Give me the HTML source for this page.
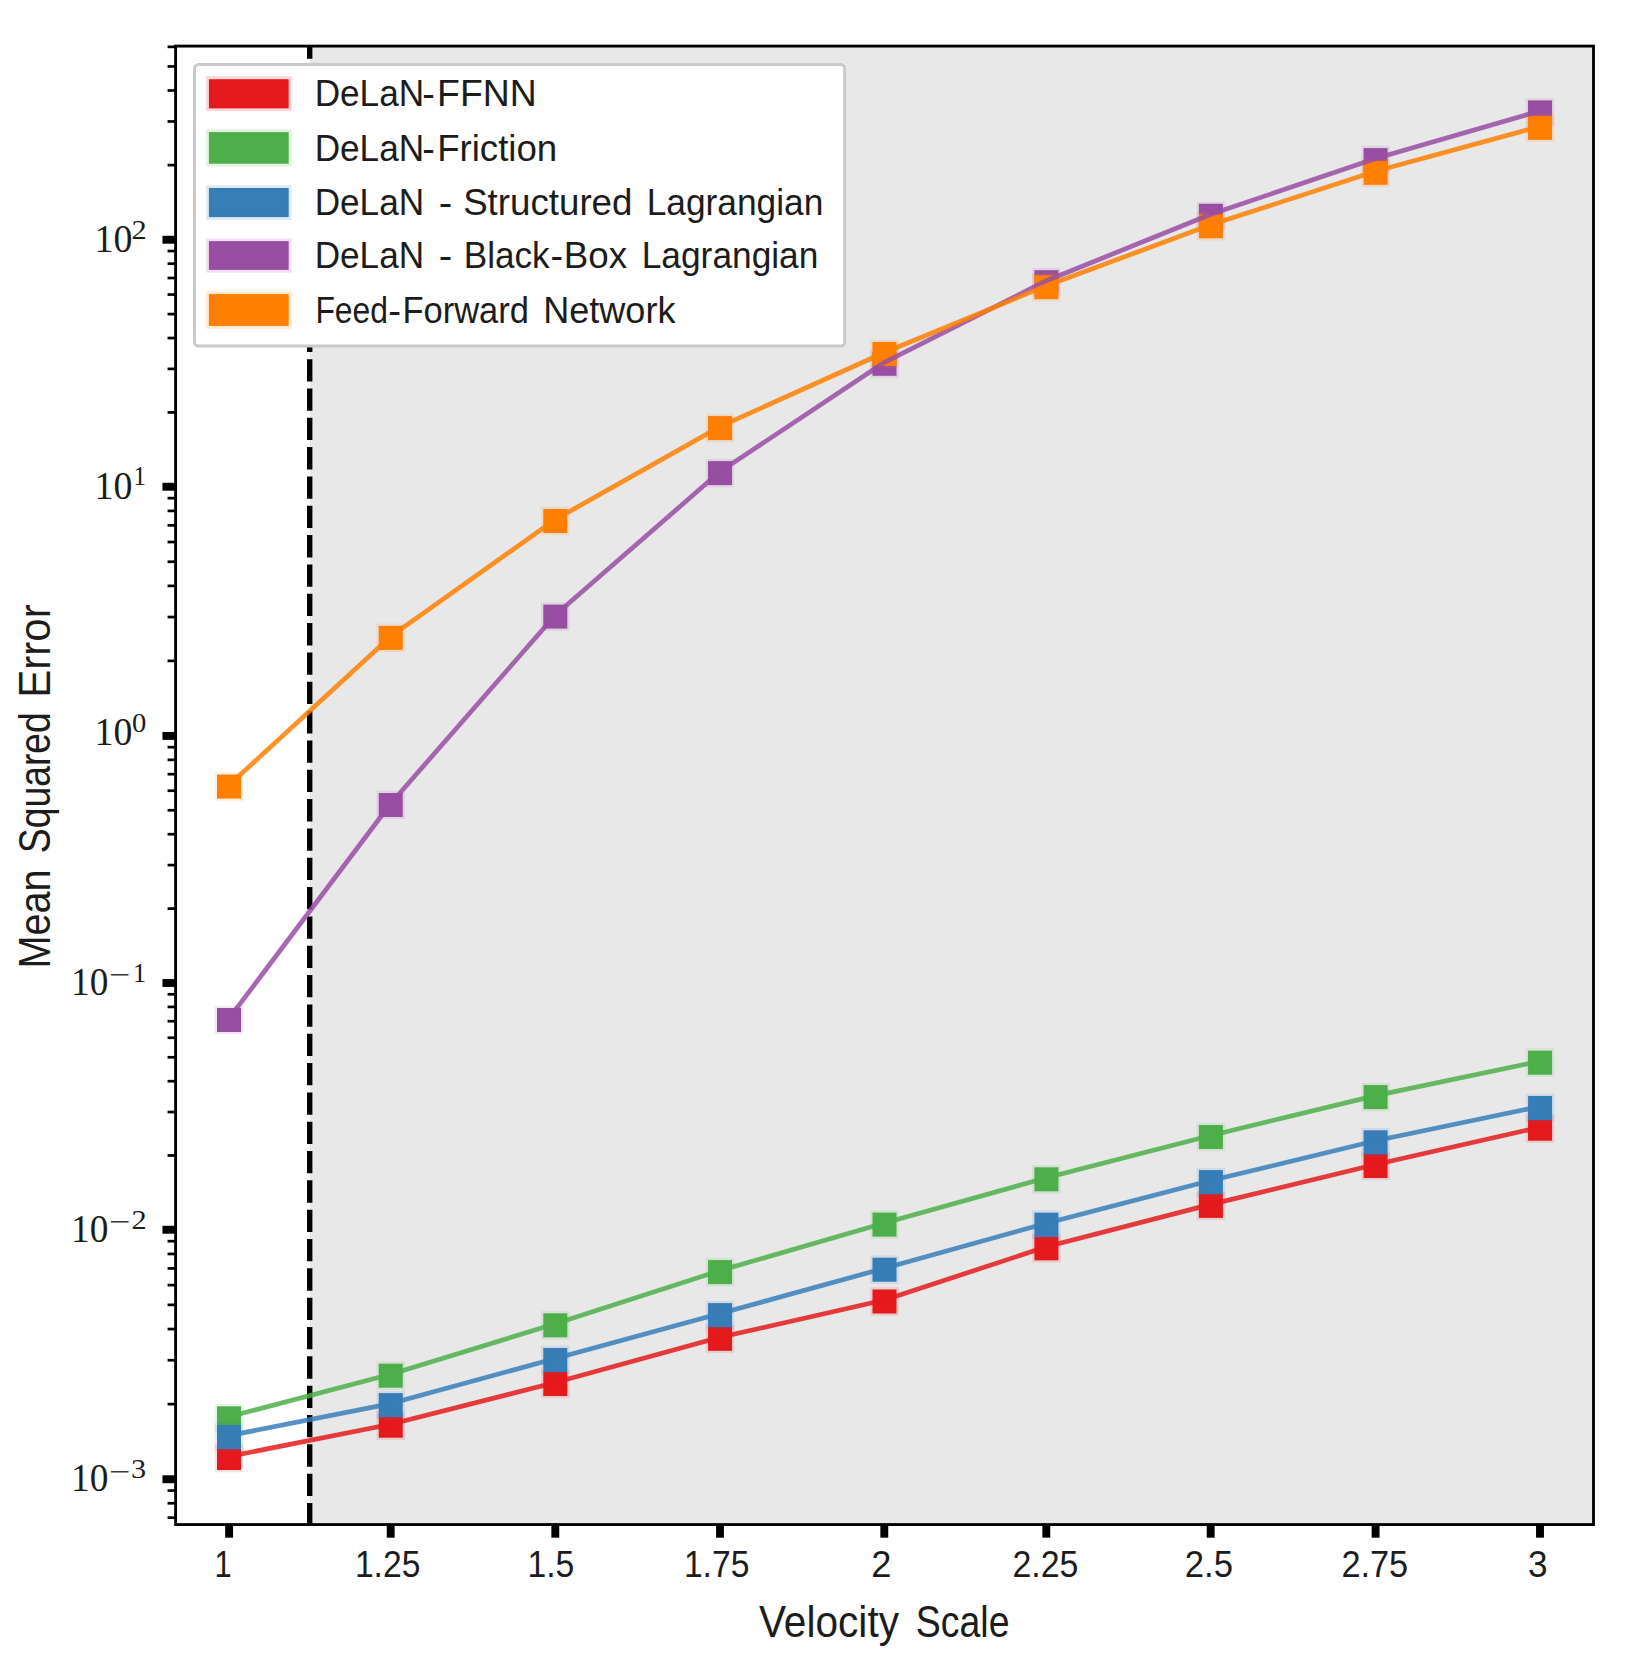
<!DOCTYPE html>
<html lang="en"><head><meta charset="utf-8"><title>Mean Squared Error vs Velocity Scale</title>
<style>html,body{margin:0;padding:0;background:#fff}body{width:1630px;height:1665px;overflow:hidden}svg{display:block}text{white-space:pre}</style>
</head><body>
<svg width="1630" height="1665" viewBox="0 0 1630 1665">
<rect x="0" y="0" width="1630" height="1665" fill="#ffffff"/>
<rect x="310.0" y="46.1" width="1283.50" height="1478.45" fill="#e8e8e8"/>
<g>
<rect x="217.00" y="1446.00" width="24.0" height="24.0" fill="#e41a1c" stroke="#e41a1c" stroke-opacity="0.13" stroke-width="4.6"/>
<rect x="378.75" y="1413.70" width="24.0" height="24.0" fill="#e41a1c" stroke="#e41a1c" stroke-opacity="0.13" stroke-width="4.6"/>
<rect x="543.30" y="1372.00" width="24.0" height="24.0" fill="#e41a1c" stroke="#e41a1c" stroke-opacity="0.13" stroke-width="4.6"/>
<rect x="708.05" y="1326.80" width="24.0" height="24.0" fill="#e41a1c" stroke="#e41a1c" stroke-opacity="0.13" stroke-width="4.6"/>
<rect x="872.50" y="1289.50" width="24.0" height="24.0" fill="#e41a1c" stroke="#e41a1c" stroke-opacity="0.13" stroke-width="4.6"/>
<rect x="1034.40" y="1236.30" width="24.0" height="24.0" fill="#e41a1c" stroke="#e41a1c" stroke-opacity="0.13" stroke-width="4.6"/>
<rect x="1198.90" y="1193.90" width="24.0" height="24.0" fill="#e41a1c" stroke="#e41a1c" stroke-opacity="0.13" stroke-width="4.6"/>
<rect x="1363.60" y="1154.00" width="24.0" height="24.0" fill="#e41a1c" stroke="#e41a1c" stroke-opacity="0.13" stroke-width="4.6"/>
<rect x="1528.05" y="1116.70" width="24.0" height="24.0" fill="#e41a1c" stroke="#e41a1c" stroke-opacity="0.13" stroke-width="4.6"/>
<rect x="217.00" y="1406.30" width="24.0" height="24.0" fill="#4daf4a" stroke="#4daf4a" stroke-opacity="0.13" stroke-width="4.6"/>
<rect x="378.75" y="1363.70" width="24.0" height="24.0" fill="#4daf4a" stroke="#4daf4a" stroke-opacity="0.13" stroke-width="4.6"/>
<rect x="543.30" y="1313.30" width="24.0" height="24.0" fill="#4daf4a" stroke="#4daf4a" stroke-opacity="0.13" stroke-width="4.6"/>
<rect x="708.05" y="1260.10" width="24.0" height="24.0" fill="#4daf4a" stroke="#4daf4a" stroke-opacity="0.13" stroke-width="4.6"/>
<rect x="872.50" y="1212.60" width="24.0" height="24.0" fill="#4daf4a" stroke="#4daf4a" stroke-opacity="0.13" stroke-width="4.6"/>
<rect x="1034.40" y="1167.30" width="24.0" height="24.0" fill="#4daf4a" stroke="#4daf4a" stroke-opacity="0.13" stroke-width="4.6"/>
<rect x="1198.90" y="1125.00" width="24.0" height="24.0" fill="#4daf4a" stroke="#4daf4a" stroke-opacity="0.13" stroke-width="4.6"/>
<rect x="1363.60" y="1085.10" width="24.0" height="24.0" fill="#4daf4a" stroke="#4daf4a" stroke-opacity="0.13" stroke-width="4.6"/>
<rect x="1528.05" y="1050.70" width="24.0" height="24.0" fill="#4daf4a" stroke="#4daf4a" stroke-opacity="0.13" stroke-width="4.6"/>
<rect x="217.00" y="1425.10" width="24.0" height="24.0" fill="#377eb8" stroke="#377eb8" stroke-opacity="0.13" stroke-width="4.6"/>
<rect x="378.75" y="1393.10" width="24.0" height="24.0" fill="#377eb8" stroke="#377eb8" stroke-opacity="0.13" stroke-width="4.6"/>
<rect x="543.30" y="1348.00" width="24.0" height="24.0" fill="#377eb8" stroke="#377eb8" stroke-opacity="0.13" stroke-width="4.6"/>
<rect x="708.05" y="1303.10" width="24.0" height="24.0" fill="#377eb8" stroke="#377eb8" stroke-opacity="0.13" stroke-width="4.6"/>
<rect x="872.50" y="1257.70" width="24.0" height="24.0" fill="#377eb8" stroke="#377eb8" stroke-opacity="0.13" stroke-width="4.6"/>
<rect x="1034.40" y="1212.70" width="24.0" height="24.0" fill="#377eb8" stroke="#377eb8" stroke-opacity="0.13" stroke-width="4.6"/>
<rect x="1198.90" y="1170.10" width="24.0" height="24.0" fill="#377eb8" stroke="#377eb8" stroke-opacity="0.13" stroke-width="4.6"/>
<rect x="1363.60" y="1130.30" width="24.0" height="24.0" fill="#377eb8" stroke="#377eb8" stroke-opacity="0.13" stroke-width="4.6"/>
<rect x="1528.05" y="1096.00" width="24.0" height="24.0" fill="#377eb8" stroke="#377eb8" stroke-opacity="0.13" stroke-width="4.6"/>
<rect x="217.00" y="1008.00" width="24.0" height="24.0" fill="#984ea3" stroke="#984ea3" stroke-opacity="0.13" stroke-width="4.6"/>
<rect x="378.75" y="793.00" width="24.0" height="24.0" fill="#984ea3" stroke="#984ea3" stroke-opacity="0.13" stroke-width="4.6"/>
<rect x="543.30" y="604.60" width="24.0" height="24.0" fill="#984ea3" stroke="#984ea3" stroke-opacity="0.13" stroke-width="4.6"/>
<rect x="708.05" y="461.10" width="24.0" height="24.0" fill="#984ea3" stroke="#984ea3" stroke-opacity="0.13" stroke-width="4.6"/>
<rect x="872.50" y="351.80" width="24.0" height="24.0" fill="#984ea3" stroke="#984ea3" stroke-opacity="0.13" stroke-width="4.6"/>
<rect x="1034.40" y="270.20" width="24.0" height="24.0" fill="#984ea3" stroke="#984ea3" stroke-opacity="0.13" stroke-width="4.6"/>
<rect x="1198.90" y="203.80" width="24.0" height="24.0" fill="#984ea3" stroke="#984ea3" stroke-opacity="0.13" stroke-width="4.6"/>
<rect x="1363.60" y="148.10" width="24.0" height="24.0" fill="#984ea3" stroke="#984ea3" stroke-opacity="0.13" stroke-width="4.6"/>
<rect x="1528.05" y="100.40" width="24.0" height="24.0" fill="#984ea3" stroke="#984ea3" stroke-opacity="0.13" stroke-width="4.6"/>
<rect x="217.00" y="774.60" width="24.0" height="24.0" fill="#ff7f00" stroke="#ff7f00" stroke-opacity="0.13" stroke-width="4.6"/>
<rect x="378.75" y="625.90" width="24.0" height="24.0" fill="#ff7f00" stroke="#ff7f00" stroke-opacity="0.13" stroke-width="4.6"/>
<rect x="543.30" y="509.00" width="24.0" height="24.0" fill="#ff7f00" stroke="#ff7f00" stroke-opacity="0.13" stroke-width="4.6"/>
<rect x="708.05" y="416.10" width="24.0" height="24.0" fill="#ff7f00" stroke="#ff7f00" stroke-opacity="0.13" stroke-width="4.6"/>
<rect x="872.50" y="342.00" width="24.0" height="24.0" fill="#ff7f00" stroke="#ff7f00" stroke-opacity="0.13" stroke-width="4.6"/>
<rect x="1034.40" y="275.20" width="24.0" height="24.0" fill="#ff7f00" stroke="#ff7f00" stroke-opacity="0.13" stroke-width="4.6"/>
<rect x="1198.90" y="214.30" width="24.0" height="24.0" fill="#ff7f00" stroke="#ff7f00" stroke-opacity="0.13" stroke-width="4.6"/>
<rect x="1363.60" y="160.80" width="24.0" height="24.0" fill="#ff7f00" stroke="#ff7f00" stroke-opacity="0.13" stroke-width="4.6"/>
<rect x="1528.05" y="115.90" width="24.0" height="24.0" fill="#ff7f00" stroke="#ff7f00" stroke-opacity="0.13" stroke-width="4.6"/>
</g>
<path d="M309.7 1525.3 L309.7 46.1" stroke="#000" stroke-width="5.4" stroke-dasharray="22.3 7.03" fill="none"/>
<polyline points="229.00,1456.50 390.75,1424.20 555.30,1382.50 720.05,1337.30 884.50,1300.00 1046.40,1246.80 1210.90,1204.40 1375.60,1164.50 1540.05,1127.20" fill="none" stroke="#e41a1c" stroke-opacity="0.85" stroke-width="4.7" stroke-linejoin="round"/>
<polyline points="229.00,1416.80 390.75,1374.20 555.30,1323.80 720.05,1270.60 884.50,1223.10 1046.40,1177.80 1210.90,1135.50 1375.60,1095.60 1540.05,1061.20" fill="none" stroke="#4daf4a" stroke-opacity="0.85" stroke-width="4.7" stroke-linejoin="round"/>
<polyline points="229.00,1435.60 390.75,1403.60 555.30,1358.50 720.05,1313.60 884.50,1268.20 1046.40,1223.20 1210.90,1180.60 1375.60,1140.80 1540.05,1106.50" fill="none" stroke="#377eb8" stroke-opacity="0.85" stroke-width="4.7" stroke-linejoin="round"/>
<polyline points="229.00,1018.50 390.75,803.50 555.30,615.10 720.05,471.60 884.50,362.30 1046.40,280.70 1210.90,214.30 1375.60,158.60 1540.05,110.90" fill="none" stroke="#984ea3" stroke-opacity="0.85" stroke-width="4.7" stroke-linejoin="round"/>
<polyline points="229.00,785.10 390.75,636.40 555.30,519.50 720.05,426.60 884.50,352.50 1046.40,285.70 1210.90,224.80 1375.60,171.30 1540.05,126.40" fill="none" stroke="#ff7f00" stroke-opacity="0.85" stroke-width="4.7" stroke-linejoin="round"/>
<g><rect x="225.15" y="1524.55" width="7.9" height="13.12" fill="#000"/><rect x="386.75" y="1524.55" width="7.9" height="13.12" fill="#000"/><rect x="551.35" y="1524.55" width="7.9" height="13.12" fill="#000"/><rect x="716.05" y="1524.55" width="7.9" height="13.12" fill="#000"/><rect x="880.35" y="1524.55" width="7.9" height="13.12" fill="#000"/><rect x="1042.35" y="1524.55" width="7.9" height="13.12" fill="#000"/><rect x="1206.75" y="1524.55" width="7.9" height="13.12" fill="#000"/><rect x="1371.65" y="1524.55" width="7.9" height="13.12" fill="#000"/><rect x="1536.05" y="1524.55" width="7.9" height="13.12" fill="#000"/><rect x="162.47" y="235.80" width="13.12" height="7.9" fill="#000"/><rect x="162.47" y="482.80" width="13.12" height="7.9" fill="#000"/><rect x="162.47" y="731.95" width="13.12" height="7.9" fill="#000"/><rect x="162.47" y="979.05" width="13.12" height="7.9" fill="#000"/><rect x="162.47" y="1225.80" width="13.12" height="7.9" fill="#000"/><rect x="162.47" y="1475.30" width="13.12" height="7.9" fill="#000"/><rect x="167.57" y="1516.30" width="8.03" height="2.7" fill="#000"/><rect x="167.57" y="1501.92" width="8.03" height="2.7" fill="#000"/><rect x="167.57" y="1489.24" width="8.03" height="2.7" fill="#000"/><rect x="167.57" y="1402.79" width="8.03" height="2.7" fill="#000"/><rect x="167.57" y="1358.86" width="8.03" height="2.7" fill="#000"/><rect x="167.57" y="1327.69" width="8.03" height="2.7" fill="#000"/><rect x="167.57" y="1303.51" width="8.03" height="2.7" fill="#000"/><rect x="167.57" y="1283.75" width="8.03" height="2.7" fill="#000"/><rect x="167.57" y="1267.05" width="8.03" height="2.7" fill="#000"/><rect x="167.57" y="1252.58" width="8.03" height="2.7" fill="#000"/><rect x="167.57" y="1239.82" width="8.03" height="2.7" fill="#000"/><rect x="167.57" y="1154.12" width="8.03" height="2.7" fill="#000"/><rect x="167.57" y="1110.67" width="8.03" height="2.7" fill="#000"/><rect x="167.57" y="1079.84" width="8.03" height="2.7" fill="#000"/><rect x="167.57" y="1055.93" width="8.03" height="2.7" fill="#000"/><rect x="167.57" y="1036.39" width="8.03" height="2.7" fill="#000"/><rect x="167.57" y="1019.87" width="8.03" height="2.7" fill="#000"/><rect x="167.57" y="1005.56" width="8.03" height="2.7" fill="#000"/><rect x="167.57" y="992.94" width="8.03" height="2.7" fill="#000"/><rect x="167.57" y="907.27" width="8.03" height="2.7" fill="#000"/><rect x="167.57" y="863.75" width="8.03" height="2.7" fill="#000"/><rect x="167.57" y="832.88" width="8.03" height="2.7" fill="#000"/><rect x="167.57" y="808.93" width="8.03" height="2.7" fill="#000"/><rect x="167.57" y="789.37" width="8.03" height="2.7" fill="#000"/><rect x="167.57" y="772.83" width="8.03" height="2.7" fill="#000"/><rect x="167.57" y="758.50" width="8.03" height="2.7" fill="#000"/><rect x="167.57" y="745.86" width="8.03" height="2.7" fill="#000"/><rect x="167.57" y="659.55" width="8.03" height="2.7" fill="#000"/><rect x="167.57" y="615.68" width="8.03" height="2.7" fill="#000"/><rect x="167.57" y="584.55" width="8.03" height="2.7" fill="#000"/><rect x="167.57" y="560.40" width="8.03" height="2.7" fill="#000"/><rect x="167.57" y="540.67" width="8.03" height="2.7" fill="#000"/><rect x="167.57" y="523.99" width="8.03" height="2.7" fill="#000"/><rect x="167.57" y="509.55" width="8.03" height="2.7" fill="#000"/><rect x="167.57" y="496.80" width="8.03" height="2.7" fill="#000"/><rect x="167.57" y="411.05" width="8.03" height="2.7" fill="#000"/><rect x="167.57" y="367.55" width="8.03" height="2.7" fill="#000"/><rect x="167.57" y="336.69" width="8.03" height="2.7" fill="#000"/><rect x="167.57" y="312.75" width="8.03" height="2.7" fill="#000"/><rect x="167.57" y="293.20" width="8.03" height="2.7" fill="#000"/><rect x="167.57" y="276.66" width="8.03" height="2.7" fill="#000"/><rect x="167.57" y="262.34" width="8.03" height="2.7" fill="#000"/><rect x="167.57" y="249.70" width="8.03" height="2.7" fill="#000"/><rect x="167.57" y="163.77" width="8.03" height="2.7" fill="#000"/><rect x="167.57" y="120.12" width="8.03" height="2.7" fill="#000"/><rect x="167.57" y="89.15" width="8.03" height="2.7" fill="#000"/><rect x="167.57" y="65.13" width="8.03" height="2.7" fill="#000"/><rect x="167.57" y="45.50" width="8.03" height="2.7" fill="#000"/></g>
<rect x="175.6" y="46.1" width="1417.90" height="1478.45" fill="none" stroke="#000" stroke-width="2.85"/>
<rect x="194.50" y="64.60" width="650.20" height="281.50" rx="4" ry="4" fill="#ffffff" stroke="#cacaca" stroke-width="3.0"/>
<rect x="208.9" y="79.2" width="79.80" height="29.20" fill="#e41a1c" stroke="#e41a1c" stroke-opacity="0.17" stroke-width="5.6"/>
<rect x="208.9" y="132.1" width="79.80" height="31.60" fill="#4daf4a" stroke="#4daf4a" stroke-opacity="0.17" stroke-width="5.6"/>
<rect x="208.9" y="188.0" width="79.80" height="29.10" fill="#377eb8" stroke="#377eb8" stroke-opacity="0.17" stroke-width="5.6"/>
<rect x="208.9" y="241.1" width="79.80" height="28.80" fill="#984ea3" stroke="#984ea3" stroke-opacity="0.17" stroke-width="5.6"/>
<rect x="208.9" y="294.1" width="79.80" height="31.80" fill="#ff7f00" stroke="#ff7f00" stroke-opacity="0.17" stroke-width="5.6"/>
<text y="1577.0" font-family="'Liberation Sans', sans-serif" font-size="36.6" fill="#1c1c1c"><tspan x="214.47" textLength="17.18" lengthAdjust="spacingAndGlyphs">1</tspan></text>
<text y="1577.0" font-family="'Liberation Sans', sans-serif" font-size="36.6" fill="#1c1c1c"><tspan x="354.90" textLength="65.47" lengthAdjust="spacingAndGlyphs">1.25</tspan></text>
<text y="1577.0" font-family="'Liberation Sans', sans-serif" font-size="36.6" fill="#1c1c1c"><tspan x="527.49" textLength="46.87" lengthAdjust="spacingAndGlyphs">1.5</tspan></text>
<text y="1577.0" font-family="'Liberation Sans', sans-serif" font-size="36.6" fill="#1c1c1c"><tspan x="683.90" textLength="65.47" lengthAdjust="spacingAndGlyphs">1.75</tspan></text>
<text y="1577.0" font-family="'Liberation Sans', sans-serif" font-size="36.6" fill="#1c1c1c"><tspan x="871.30" textLength="20.17" lengthAdjust="spacingAndGlyphs">2</tspan></text>
<text y="1577.0" font-family="'Liberation Sans', sans-serif" font-size="36.6" fill="#1c1c1c"><tspan x="1012.41" textLength="65.96" lengthAdjust="spacingAndGlyphs">2.25</tspan></text>
<text y="1577.0" font-family="'Liberation Sans', sans-serif" font-size="36.6" fill="#1c1c1c"><tspan x="1184.77" textLength="48.23" lengthAdjust="spacingAndGlyphs">2.5</tspan></text>
<text y="1577.0" font-family="'Liberation Sans', sans-serif" font-size="36.6" fill="#1c1c1c"><tspan x="1341.39" textLength="66.80" lengthAdjust="spacingAndGlyphs">2.75</tspan></text>
<text y="1577.0" font-family="'Liberation Sans', sans-serif" font-size="36.6" fill="#1c1c1c"><tspan x="1527.90" textLength="19.52" lengthAdjust="spacingAndGlyphs">3</tspan></text>
<text y="1636.6" font-family="'Liberation Sans', sans-serif" font-size="45.0" fill="#1c1c1c"><tspan x="759.00" textLength="140.00" lengthAdjust="spacingAndGlyphs">Velocity</tspan> <tspan x="915.83" textLength="93.69" lengthAdjust="spacingAndGlyphs">Scale</tspan></text>
<text transform="translate(50.0,0) rotate(-90)" y="0" font-family="'Liberation Sans', sans-serif" font-size="45.0" fill="#1c1c1c"><tspan x="-968.49" textLength="98.91" lengthAdjust="spacingAndGlyphs">Mean</tspan> <tspan x="-853.27" textLength="141.16" lengthAdjust="spacingAndGlyphs">Squared</tspan> <tspan x="-697.78" textLength="93.39" lengthAdjust="spacingAndGlyphs">Error</tspan></text>
<text y="105.8" font-family="'Liberation Sans', sans-serif" font-size="37.8" fill="#1c1c1c"><tspan x="314.65" textLength="109.52" lengthAdjust="spacingAndGlyphs">DeLaN</tspan><tspan x="422.22" textLength="12.54" lengthAdjust="spacingAndGlyphs">-</tspan><tspan x="437.08" textLength="99.56" lengthAdjust="spacingAndGlyphs">FFNN</tspan></text>
<text y="161.1" font-family="'Liberation Sans', sans-serif" font-size="37.8" fill="#1c1c1c"><tspan x="314.65" textLength="109.52" lengthAdjust="spacingAndGlyphs">DeLaN</tspan><tspan x="422.22" textLength="12.54" lengthAdjust="spacingAndGlyphs">-</tspan><tspan x="437.14" textLength="120.12" lengthAdjust="spacingAndGlyphs">Friction</tspan></text>
<text y="214.9" font-family="'Liberation Sans', sans-serif" font-size="37.8" fill="#1c1c1c"><tspan x="314.65" textLength="109.52" lengthAdjust="spacingAndGlyphs">DeLaN</tspan> <tspan x="438.73" textLength="13.54" lengthAdjust="spacingAndGlyphs">-</tspan> <tspan x="463.15" textLength="169.31" lengthAdjust="spacingAndGlyphs">Structured</tspan> <tspan x="646.64" textLength="176.74" lengthAdjust="spacingAndGlyphs">Lagrangian</tspan></text>
<text y="267.9" font-family="'Liberation Sans', sans-serif" font-size="37.8" fill="#1c1c1c"><tspan x="314.65" textLength="109.52" lengthAdjust="spacingAndGlyphs">DeLaN</tspan> <tspan x="438.73" textLength="13.54" lengthAdjust="spacingAndGlyphs">-</tspan> <tspan x="463.76" textLength="85.90" lengthAdjust="spacingAndGlyphs">Black</tspan><tspan x="550.62" textLength="12.54" lengthAdjust="spacingAndGlyphs">-</tspan><tspan x="563.73" textLength="63.37" lengthAdjust="spacingAndGlyphs">Box</tspan> <tspan x="641.74" textLength="176.64" lengthAdjust="spacingAndGlyphs">Lagrangian</tspan></text>
<text y="323.2" font-family="'Liberation Sans', sans-serif" font-size="37.8" fill="#1c1c1c"><tspan x="315.41" textLength="72.58" lengthAdjust="spacingAndGlyphs">Feed</tspan><tspan x="388.30" textLength="12.79" lengthAdjust="spacingAndGlyphs">-</tspan><tspan x="402.51" textLength="126.43" lengthAdjust="spacingAndGlyphs">Forward</tspan> <tspan x="543.18" textLength="132.25" lengthAdjust="spacingAndGlyphs">Network</tspan></text>
<text font-family="'Liberation Serif', serif" font-size="40.0" fill="#1c1c1c"><tspan x="94.54" y="251.5" textLength="37.84" lengthAdjust="spacingAndGlyphs">10</tspan><tspan x="131.55" y="238.5" font-size="28.0" textLength="15.17" lengthAdjust="spacingAndGlyphs">2</tspan></text>
<text font-family="'Liberation Serif', serif" font-size="40.0" fill="#1c1c1c"><tspan x="94.54" y="498.5" textLength="37.84" lengthAdjust="spacingAndGlyphs">10</tspan><tspan x="133.56" y="485.0" font-size="28.0" textLength="12.40" lengthAdjust="spacingAndGlyphs">1</tspan></text>
<text font-family="'Liberation Serif', serif" font-size="40.0" fill="#1c1c1c"><tspan x="94.54" y="745.0" textLength="37.84" lengthAdjust="spacingAndGlyphs">10</tspan><tspan x="131.91" y="732.0" font-size="28.0" textLength="14.29" lengthAdjust="spacingAndGlyphs">0</tspan></text>
<text font-family="'Liberation Serif', serif" font-size="40.0" fill="#1c1c1c"><tspan x="71.09" y="994.5" textLength="37.28" lengthAdjust="spacingAndGlyphs">10</tspan><tspan x="109.22" y="984.0" font-size="28.0" fill="#3a3a3a" textLength="21.42" lengthAdjust="spacingAndGlyphs">−</tspan><tspan x="132.96" y="981.5" font-size="28.0" textLength="13.07" lengthAdjust="spacingAndGlyphs">1</tspan></text>
<text font-family="'Liberation Serif', serif" font-size="40.0" fill="#1c1c1c"><tspan x="71.09" y="1241.5" textLength="37.28" lengthAdjust="spacingAndGlyphs">10</tspan><tspan x="109.22" y="1231.0" font-size="28.0" fill="#3a3a3a" textLength="21.42" lengthAdjust="spacingAndGlyphs">−</tspan><tspan x="131.55" y="1228.5" font-size="28.0" textLength="15.17" lengthAdjust="spacingAndGlyphs">2</tspan></text>
<text font-family="'Liberation Serif', serif" font-size="40.0" fill="#1c1c1c"><tspan x="71.09" y="1491.0" textLength="37.28" lengthAdjust="spacingAndGlyphs">10</tspan><tspan x="109.22" y="1480.5" font-size="28.0" fill="#3a3a3a" textLength="21.42" lengthAdjust="spacingAndGlyphs">−</tspan><tspan x="131.08" y="1478.0" font-size="28.0" textLength="15.17" lengthAdjust="spacingAndGlyphs">3</tspan></text>
</svg>
</body></html>
